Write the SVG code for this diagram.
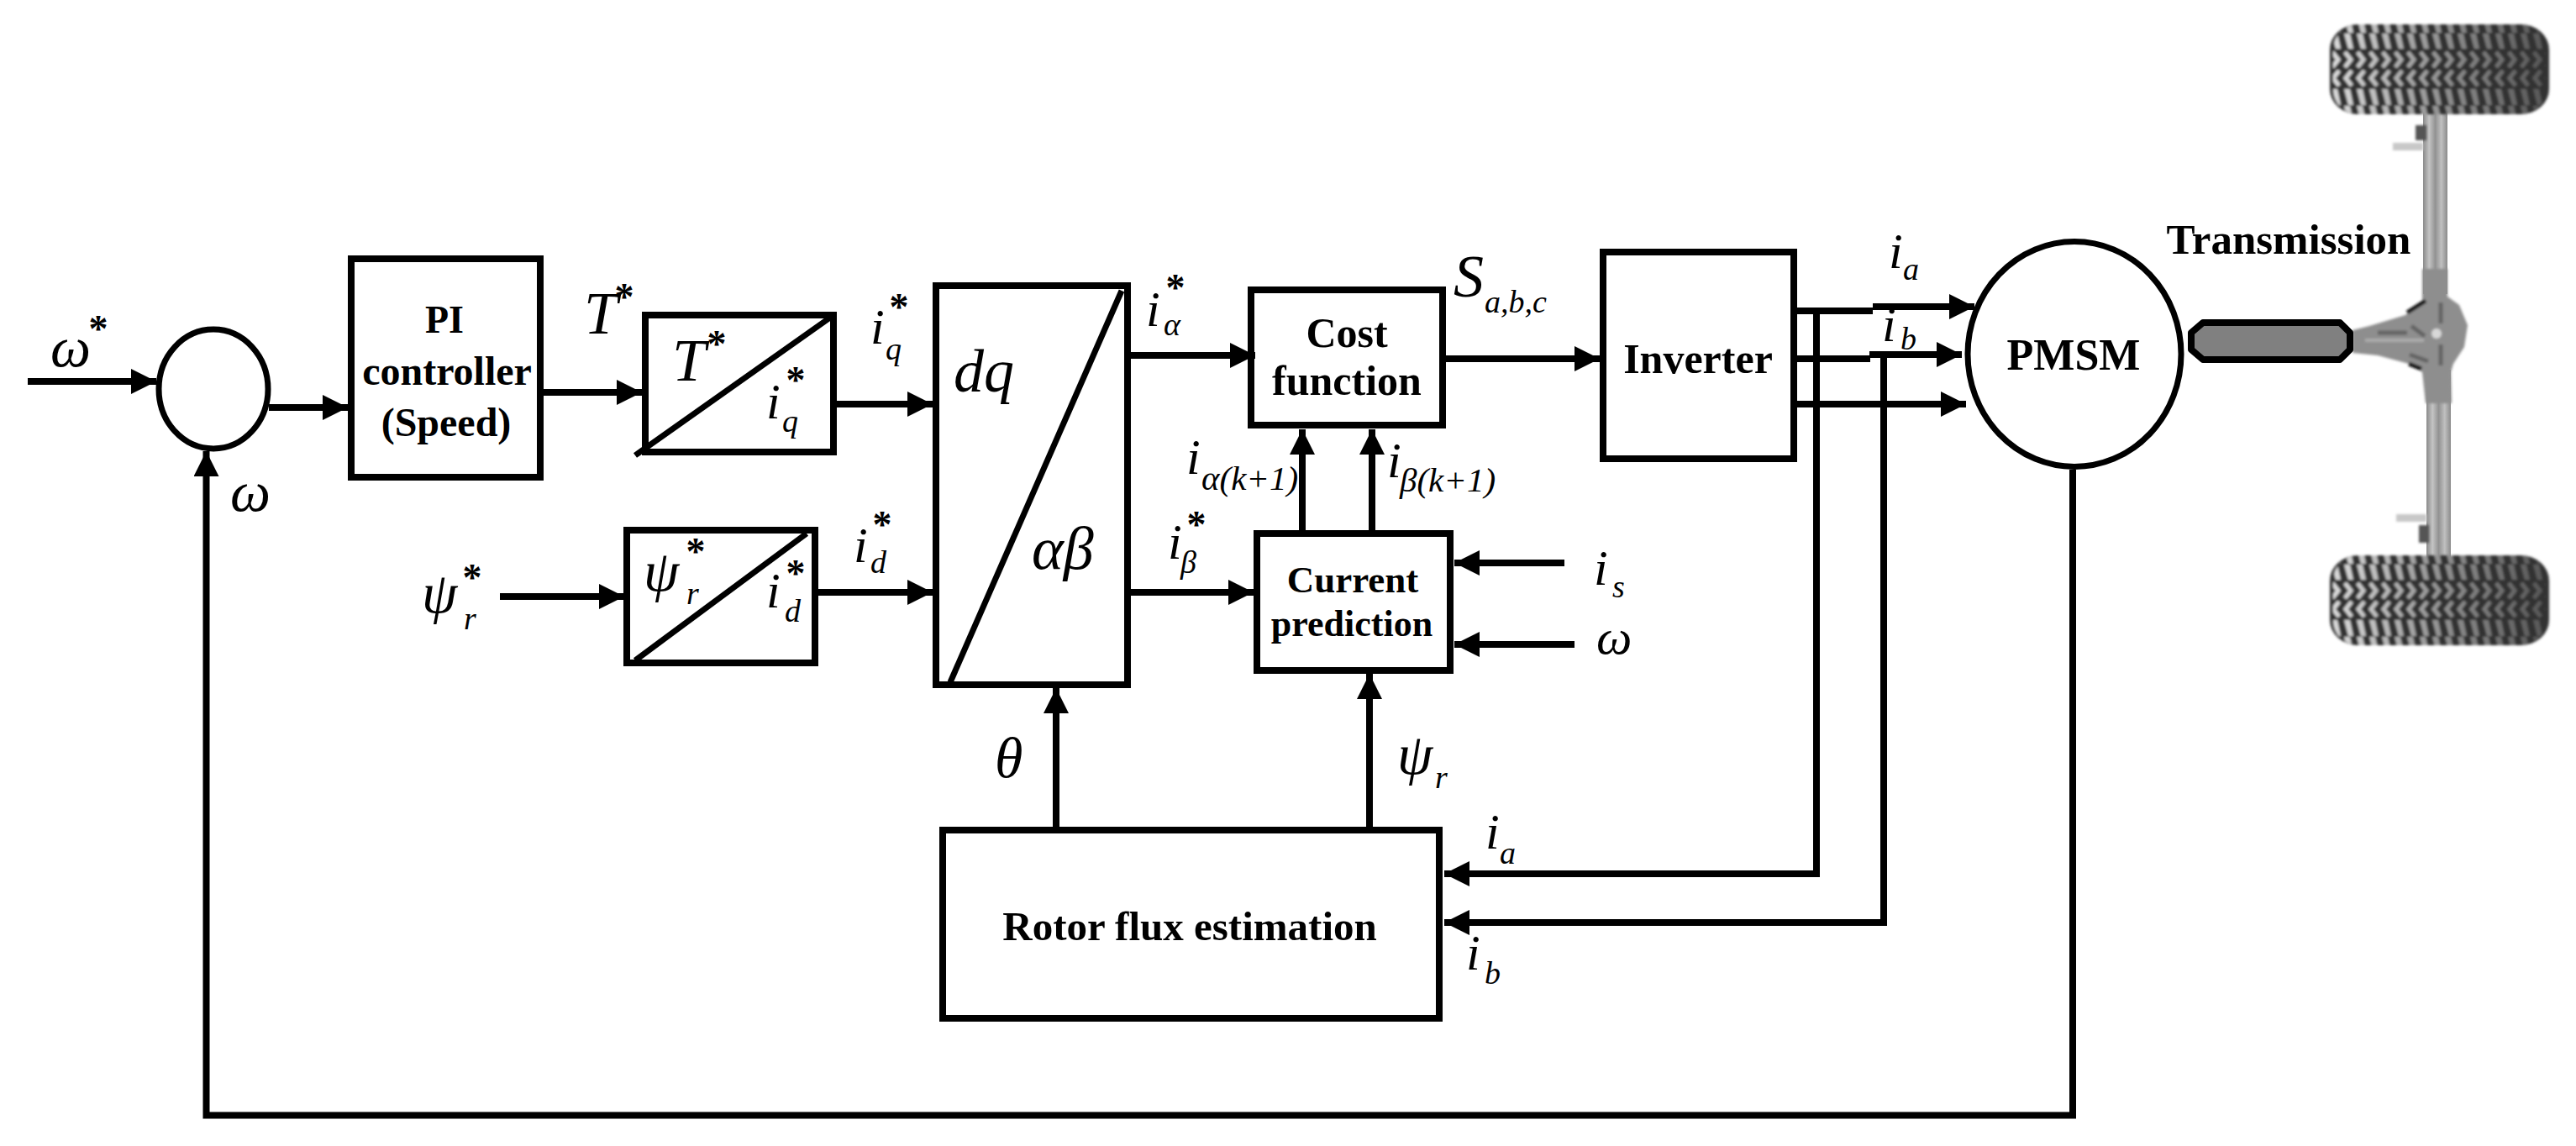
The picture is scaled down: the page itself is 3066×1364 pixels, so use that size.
<svg xmlns="http://www.w3.org/2000/svg" width="3066" height="1364" viewBox="0 0 3066 1364">
<style>
text{font-family:"Liberation Serif","Times New Roman",serif;fill:#000}
.b{font-weight:bold;text-anchor:middle}
.m{font-style:italic;font-size:60px}
.g{font-style:italic;font-size:68px}
.l{font-style:italic;font-size:72px}
.u{font-style:italic;font-size:38px}
.k{font-style:italic;font-size:41px}
.st{font-weight:bold;font-size:46px;text-anchor:middle}
.box{fill:#fff;stroke:#000;stroke-width:8}
.dg{fill:none;stroke:#000;stroke-width:7}
.c{fill:none;stroke:#000;stroke-width:8}
.a{marker-end:url(#h)}
</style>
<defs>
<marker id="h" markerUnits="userSpaceOnUse" markerWidth="32" markerHeight="32" refX="30" refY="15" orient="auto"><path d="M0 0L30 15L0 30Z" fill="#000"/></marker>
<pattern id="tread" patternUnits="userSpaceOnUse" x="0" y="11" width="15" height="86">
<polygon points="2,0 9,0 13,18 7,18" fill="#fff"/>
<polyline points="3,22 10,31 3,40" fill="none" stroke="#fff" stroke-width="5"/>
<polyline points="11,44 4,53 11,62" fill="none" stroke="#fff" stroke-width="5"/>
<polygon points="2,66 9,66 13,85 7,85" fill="#fff"/>
</pattern>
<linearGradient id="fade" x1="0" x2="1" y1="0" y2="0"><stop offset="0" stop-color="#d8d8d8"/><stop offset="0.45" stop-color="#808080"/><stop offset="1" stop-color="#2a2a2a"/></linearGradient>
<mask id="fm" maskUnits="userSpaceOnUse" x="0" y="0" width="261" height="107"><rect width="261" height="107" fill="url(#fade)"/></mask>
<linearGradient id="ax" x1="0" x2="1" y1="0" y2="0"><stop offset="0" stop-color="#8a8a8a"/><stop offset="0.25" stop-color="#c4c4c4"/><stop offset="0.5" stop-color="#929292"/><stop offset="0.75" stop-color="#c0c0c0"/><stop offset="1" stop-color="#8a8a8a"/></linearGradient>
<filter id="bl" x="-5%" y="-5%" width="110%" height="110%"><feGaussianBlur stdDeviation="1.8"/></filter>
<g id="tire" filter="url(#bl)"><rect width="261" height="107" rx="34" ry="30" fill="#333"/><rect x="4" y="0" width="253" height="107" rx="30" ry="30" fill="url(#tread)" mask="url(#fm)"/></g>
</defs>
<rect width="3066" height="1364" fill="#fff"/>

<g id="sum"><ellipse cx="254" cy="463" rx="65" ry="71" fill="#fff" stroke="#000" stroke-width="7"/></g>
<g id="pi-controller"><rect class="box" x="418" y="308" width="225" height="260"/>
<text class="b" x="529" y="396" font-size="46">PI</text>
<text class="b" x="532" y="458" font-size="48">controller</text>
<text class="b" x="531" y="519" font-size="48">(Speed)</text></g>
<g id="torque-block"><rect class="box" x="768" y="375" width="224" height="163"/><path class="dg" d="M756 542L988 378"/>
<text class="l" x="800" y="453">T</text><text class="st" x="853" y="425">*</text>
<text class="m" x="912" y="498">i</text><text class="u" x="931" y="514">q</text><text class="st" x="947" y="468">*</text></g>
<g id="flux-block"><rect class="box" x="746" y="631" width="224" height="158"/><path class="dg" d="M756 786L960 635"/>
<text class="g" x="766" y="703">ψ</text><text class="u" x="817" y="719">r</text><text class="st" x="828" y="672">*</text>
<text class="m" x="912" y="723">i</text><text class="u" x="934" y="740">d</text><text class="st" x="947" y="698">*</text></g>
<g id="dq-transform"><rect class="box" x="1114" y="340" width="228" height="475"/><path class="dg" d="M1131 812L1335 346"/>
<text class="l" x="1135" y="466">dq</text><text class="l" x="1228" y="677">αβ</text></g>
<g id="cost-function"><rect class="box" x="1489" y="345" width="228" height="161"/>
<text class="b" x="1603" y="413" font-size="50">Cost</text><text class="b" x="1603" y="470" font-size="50">function</text></g>
<g id="current-prediction"><rect class="box" x="1496" y="635" width="230" height="163"/>
<text class="b" x="1610" y="705" font-size="45">Current</text><text class="b" x="1609" y="757" font-size="44">prediction</text></g>
<g id="inverter"><rect class="box" x="1908" y="300" width="227" height="246"/>
<text class="b" x="2021" y="444" font-size="50">Inverter</text></g>
<g id="rotor-flux"><rect class="box" x="1122" y="988" width="591" height="224"/>
<text class="b" x="1416" y="1119" font-size="49">Rotor flux estimation</text></g>
<g id="pmsm"><ellipse cx="2469" cy="421.500" rx="127" ry="134" fill="#fff" stroke="#000" stroke-width="7"/>
<text class="b" x="2468" y="440" font-size="52">PMSM</text></g>

<g id="connectors">
<path class="c a" d="M33 454H186"/>
<path class="c a" d="M320 485H414"/>
<path class="c a" d="M647 467H764"/>
<path class="c a" d="M996 481H1110"/>
<path class="c a" d="M595 710H743"/>
<path class="c a" d="M974 705H1110"/>
<path class="c a" d="M1346 423H1494"/>
<path class="c a" d="M1346 705H1492"/>
<path class="c a" d="M1721 427H1904"/>
<path class="c a" d="M1550 631V511"/>
<path class="c a" d="M1633 631V511"/>
<path class="c a" d="M1862 670H1731"/>
<path class="c a" d="M1874 767H1731"/>
<path class="c a" d="M1257 984V819"/>
<path class="c a" d="M1630 984V802"/>
<path class="c" d="M2139 370H2229" stroke-width="10"/>
<path class="c a" d="M2229 365H2350"/>
<path class="c" d="M2139 427H2226" stroke-width="10"/>
<path class="c a" d="M2225 422H2335"/>
<path class="c a" d="M2139 481H2340"/>
<path class="c a" d="M2162 370V1040H1719"/>
<path class="c a" d="M2242 422V1098H1719"/>
<path class="c a" d="M2467 559V1327.500H245.500V537"/>
</g>

<g id="labels">
<text class="g" x="60" y="436">ω</text><text class="st" x="117" y="407">*</text>
<text class="g" x="274" y="608">ω</text>
<text class="l" x="695" y="397">T</text><text class="st" x="743" y="369">*</text>
<text class="g" x="502" y="729">ψ</text><text class="u" x="552" y="749">r</text><text class="st" x="562" y="703">*</text>
<text class="m" x="1036" y="409">i</text><text class="u" x="1054" y="428">q</text><text class="st" x="1070" y="381">*</text>
<text class="m" x="1016" y="669">i</text><text class="u" x="1036" y="682">d</text><text class="st" x="1050" y="640">*</text>
<text class="m" x="1364" y="388">i</text><text class="u" x="1385" y="399">α</text><text class="st" x="1399" y="358">*</text>
<text class="m" x="1390" y="665">i</text><text class="u" x="1405" y="682">β</text><text class="st" x="1424" y="640">*</text>
<text class="l" x="1730" y="353">S</text><text class="u" x="1767" y="372">a,b,c</text>
<text class="m" x="1412" y="564">i</text><text class="k" x="1430" y="583">α(k+1)</text>
<text class="m" x="1651" y="568">i</text><text class="k" x="1666" y="585">β(k+1)</text>
<text class="m" x="1897" y="696">i</text><text class="u" x="1919" y="711">s</text>
<text class="m" x="1900" y="778">ω</text>
<text class="g" x="1184" y="925">θ</text>
<text class="g" x="1663" y="921">ψ</text><text class="u" x="1708" y="938">r</text>
<text class="m" x="1768" y="1010">i</text><text class="u" x="1785" y="1028">a</text>
<text class="m" x="1745" y="1154">i</text><text class="u" x="1767" y="1171">b</text>
<text class="m" x="2248" y="319">i</text><text class="u" x="2265" y="333">a</text>
<text class="m" x="2240" y="406">i</text><text class="u" x="2262" y="416">b</text>
</g>

<g id="transmission">
<text class="b" x="2724" y="302" font-size="51">Transmission</text>
<rect x="2884" y="130" width="29" height="220" fill="url(#ax)"/>
<rect x="2888" y="440" width="29" height="225" fill="url(#ax)"/>
<g filter="url(#bl)">
<rect x="2875" y="149" width="13" height="18" fill="#555"/>
<rect x="2848" y="170" width="36" height="9" fill="#c8c8c8"/>
<rect x="2852" y="612" width="36" height="9" fill="#c8c8c8"/>
<rect x="2879" y="625" width="12" height="21" fill="#555"/>
<polygon points="2800,393 2820,388 2863,375 2883,357 2883,320 2913,320 2913,353 2927,363 2937,387 2933,413 2920,433 2917,443 2918,480 2887,480 2883,443 2867,433 2830,423 2800,420" fill="#8e8e8e"/>
<path d="M2865 372L2887 358M2867 433L2882 439" stroke="#111" stroke-width="5" fill="none"/>
<path d="M2815 405H2885" stroke="#ababab" stroke-width="4" fill="none"/>
<path d="M2870 388L2886 400M2868 422L2890 430M2905 360V385M2905 410V435M2830 396H2865" stroke="#636363" stroke-width="5" fill="none"/>
<circle cx="2900" cy="397" r="6" fill="#d8d8d8"/>
</g>
<polygon points="2608,396 2622,384 2785,384 2797,396 2797,416 2785,428 2622,428 2608,416" fill="#808080" stroke="#000" stroke-width="8" stroke-linejoin="round"/>
<use href="#tire" x="2773" y="29"/>
<use href="#tire" x="2773" y="661"/>
</g>
</svg>
